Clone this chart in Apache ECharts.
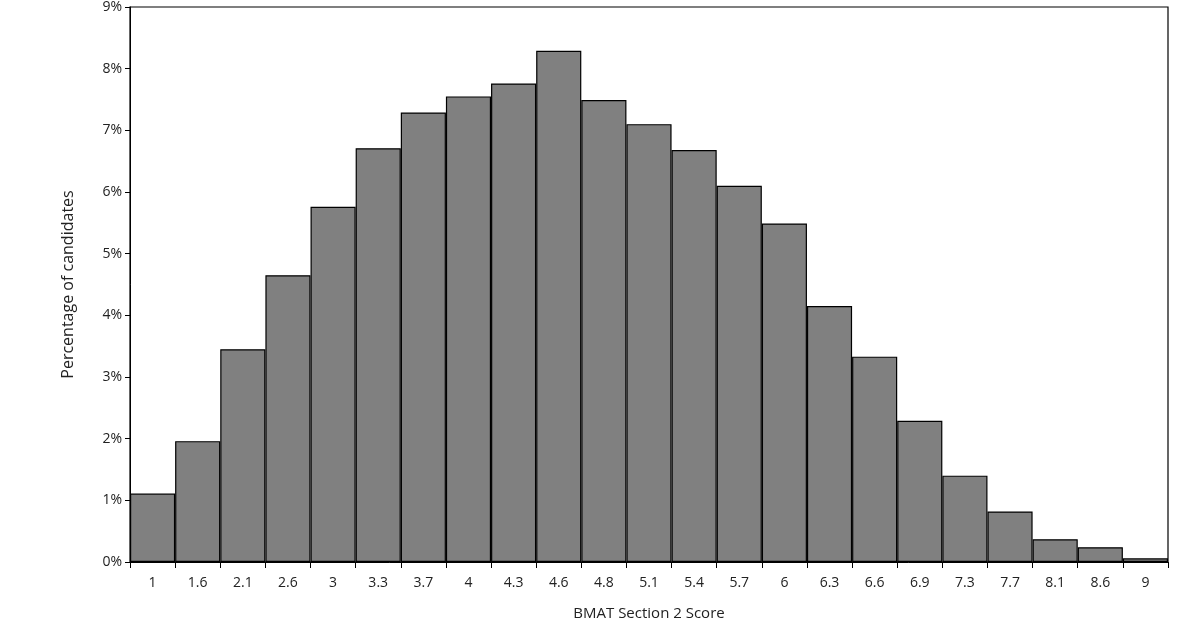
<!DOCTYPE html>
<html>
<head>
<meta charset="utf-8">
<script src="https://cdn.jsdelivr.net/npm/echarts@6/dist/echarts.min.js"></script>
<style>html,body{margin:0;padding:0;background:#fff}#chart{width:1200px;height:630px}</style>
</head>
<body>
<div id="chart"></div>
<script>
var scores = ['1','1.6','2.1','2.6','3','3.3','3.7','4','4.3','4.6','4.8','5.1','5.4','5.7','6','6.3','6.6','6.9','7.3','7.7','8.1','8.6','9'];
var percents = [1.11,1.96,3.45,4.65,5.76,6.71,7.29,7.55,7.76,8.29,7.49,7.10,6.68,6.10,5.49,4.15,3.33,2.29,1.40,0.82,0.37,0.24,0.06];

var chart = echarts.init(document.getElementById('chart'));
var font = 'Open Sans, Liberation Sans, sans-serif';
chart.setOption({
    animation: false,
    grid: {left: 130, right: 32, top: 3, bottom: 68, show: true, borderColor: '#000', borderWidth: 1.2},
    xAxis: {
        type: 'category',
        data: scores,
        name: 'BMAT Section 2 Score',
        nameLocation: 'middle',
        nameGap: 44,
        nameTextStyle: {fontFamily: font, fontSize: 15, color: '#222'},
        axisLine: {lineStyle: {color: '#000'}},
        axisTick: {show: true, length: 6, lineStyle: {color: '#000'}},
        axisLabel: {fontFamily: font, fontSize: 14, color: '#222', margin: 14}
    },
    yAxis: {
        type: 'value',
        min: 0, max: 9, interval: 1,
        name: 'Percentage of candidates',
        nameLocation: 'middle',
        nameGap: 54,
        nameTextStyle: {fontFamily: font, fontSize: 16, color: '#222'},
        axisLine: {show: true, lineStyle: {color: '#000'}},
        axisTick: {show: true, length: 5, lineStyle: {color: '#000'}},
        splitLine: {show: false},
        axisLabel: {fontFamily: font, fontSize: 14, color: '#222', formatter: '{value}%'}
    },
    series: [{
        type: 'bar',
        data: percents,
        barCategoryGap: 0,
        itemStyle: {color: '#808080', borderColor: '#000', borderWidth: 1.2}
    }]
});
</script>
</body>
</html>
